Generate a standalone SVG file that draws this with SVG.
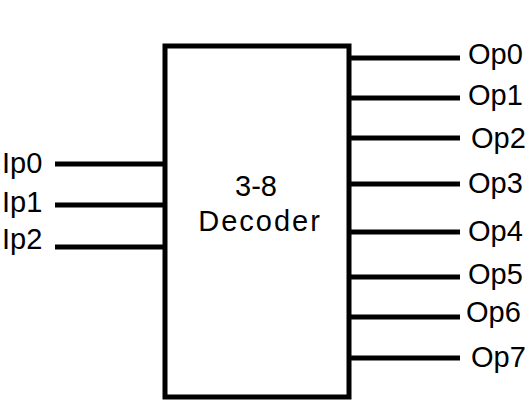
<svg xmlns="http://www.w3.org/2000/svg" width="531" height="413" viewBox="0 0 531 413">
<style>
.w{stroke:#000;stroke-width:5;fill:none}
.t{font-family:"Liberation Sans",Arial,sans-serif;font-size:29px;fill:#000}
</style>
<rect width="531" height="413" fill="#fff"/>
<g id="connectors">
<line class="w" x1="55" y1="164" x2="165" y2="164"/>
<line class="w" x1="55" y1="205" x2="165" y2="205"/>
<line class="w" x1="55" y1="247" x2="165" y2="247"/>
<line class="w" x1="349" y1="58" x2="460" y2="58"/>
<line class="w" x1="349" y1="98" x2="460" y2="98"/>
<line class="w" x1="349" y1="138" x2="460" y2="138"/>
<line class="w" x1="349" y1="184" x2="460" y2="184"/>
<line class="w" x1="349" y1="232" x2="460" y2="232"/>
<line class="w" x1="349" y1="277" x2="460" y2="277"/>
<line class="w" x1="349" y1="317" x2="460" y2="317"/>
<line class="w" x1="349" y1="358" x2="460" y2="358"/>
</g>
<g id="decoder">
<rect class="w" x="165" y="46" width="184" height="351"/>
<text class="t" x="256" y="196" text-anchor="middle" font-size="31">3-8</text>
<text class="t" x="260" y="231" text-anchor="middle" letter-spacing="2">Decoder</text>
</g>
<g id="inputs">
<text class="t" x="2" y="173">Ip0</text>
<text class="t" x="2" y="212">Ip1</text>
<text class="t" x="2" y="249">Ip2</text>
</g>
<g id="outputs">
<text class="t" x="468" y="64">Op0</text>
<text class="t" x="468" y="105">Op1</text>
<text class="t" x="471" y="148">Op2</text>
<text class="t" x="468" y="193">Op3</text>
<text class="t" x="468" y="241">Op4</text>
<text class="t" x="468" y="284">Op5</text>
<text class="t" x="466" y="322">Op6</text>
<text class="t" x="471" y="367">Op7</text>
</g>
</svg>
